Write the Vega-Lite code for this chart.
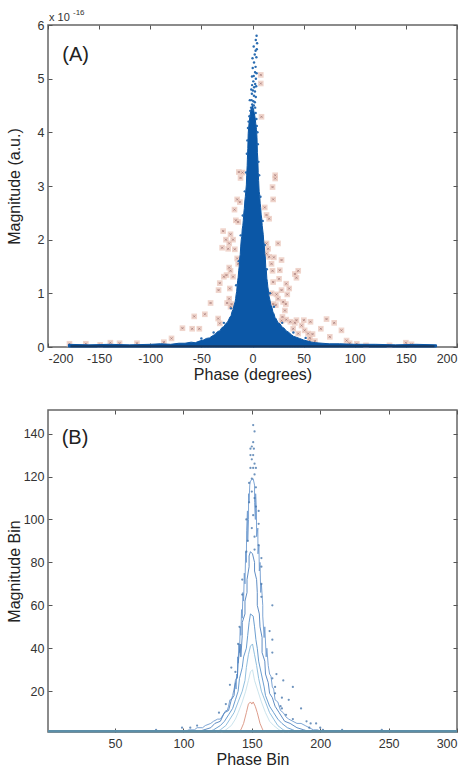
{"$schema":"https://vega.github.io/schema/vega-lite/v6.json","background":"#ffffff","padding":{"left":5,"top":8,"right":5,"bottom":2},"spacing":63,"bounds":"flush","config":{"font":"Liberation Sans","view":{"stroke":"#666666","strokeWidth":1.5},"axis":{"grid":false,"domain":false,"tickColor":"#555555","tickSize":-4,"labelColor":"#333333","labelFontSize":12.5,"titleColor":"#222222","titleFontSize":16,"titleFontWeight":"normal"}},"datasets":{"env":[{"x":-180,"y":0.05},{"x":-160,"y":0.04},{"x":-140,"y":0.05},{"x":-120,"y":0.04},{"x":-100,"y":0.05},{"x":-90,"y":0.06},{"x":-80,"y":0.05},{"x":-72,"y":0.07},{"x":-66,"y":0.07},{"x":-60,"y":0.09},{"x":-56,"y":0.08},{"x":-52,"y":0.11},{"x":-48,"y":0.13},{"x":-45,"y":0.16},{"x":-42,"y":0.17},{"x":-39,"y":0.21},{"x":-37,"y":0.23},{"x":-34,"y":0.29},{"x":-32,"y":0.3},{"x":-30,"y":0.36},{"x":-28,"y":0.38},{"x":-26,"y":0.44},{"x":-24.5,"y":0.46},{"x":-23,"y":0.52},{"x":-22,"y":0.56},{"x":-21,"y":0.58},{"x":-20,"y":0.66},{"x":-19,"y":0.7},{"x":-18,"y":0.78},{"x":-17,"y":0.84},{"x":-16.5,"y":0.9},{"x":-16,"y":0.98},{"x":-15.5,"y":1.03},{"x":-15,"y":1.14},{"x":-14.5,"y":1.24},{"x":-14,"y":1.3},{"x":-13.5,"y":1.42},{"x":-13,"y":1.5},{"x":-12.5,"y":1.66},{"x":-12,"y":1.72},{"x":-11.5,"y":1.88},{"x":-11,"y":2.0},{"x":-10.5,"y":2.06},{"x":-10,"y":2.2},{"x":-9.5,"y":2.26},{"x":-9,"y":2.36},{"x":-8.5,"y":2.5},{"x":-8,"y":2.58},{"x":-7.5,"y":2.72},{"x":-7,"y":2.8},{"x":-6.5,"y":2.92},{"x":-6,"y":3.02},{"x":-5.7,"y":3.2},{"x":-5.2,"y":3.38},{"x":-5,"y":3.5},{"x":-4.6,"y":3.7},{"x":-4.2,"y":3.98},{"x":-3.8,"y":4.08},{"x":-3.2,"y":4.2},{"x":-2.5,"y":4.3},{"x":-1.5,"y":4.42},{"x":0,"y":4.5},{"x":1.5,"y":4.38},{"x":2.5,"y":4.28},{"x":3.2,"y":4.16},{"x":3.9,"y":4.05},{"x":4.4,"y":3.9},{"x":4.8,"y":3.62},{"x":5.2,"y":3.5},{"x":5.6,"y":3.25},{"x":6,"y":3.1},{"x":6.5,"y":2.9},{"x":7,"y":2.84},{"x":7.5,"y":2.68},{"x":8,"y":2.6},{"x":8.5,"y":2.46},{"x":9,"y":2.4},{"x":9.5,"y":2.26},{"x":10,"y":2.18},{"x":10.5,"y":2.1},{"x":11,"y":1.96},{"x":11.5,"y":1.9},{"x":12,"y":1.74},{"x":12.5,"y":1.68},{"x":13,"y":1.48},{"x":13.5,"y":1.44},{"x":14,"y":1.28},{"x":14.5,"y":1.22},{"x":15,"y":1.12},{"x":15.5,"y":1.06},{"x":16,"y":0.96},{"x":17,"y":0.88},{"x":18,"y":0.78},{"x":19,"y":0.74},{"x":20,"y":0.65},{"x":21,"y":0.62},{"x":22,"y":0.55},{"x":23,"y":0.53},{"x":25,"y":0.45},{"x":27,"y":0.43},{"x":29,"y":0.37},{"x":31,"y":0.35},{"x":33,"y":0.3},{"x":35,"y":0.28},{"x":38,"y":0.23},{"x":40,"y":0.2},{"x":43,"y":0.18},{"x":46,"y":0.16},{"x":50,"y":0.13},{"x":54,"y":0.11},{"x":58,"y":0.09},{"x":62,"y":0.08},{"x":68,"y":0.07},{"x":75,"y":0.06},{"x":85,"y":0.06},{"x":100,"y":0.05},{"x":120,"y":0.05},{"x":140,"y":0.04},{"x":160,"y":0.05},{"x":180,"y":0.04}],"blueA":[{"x":4,"y":5.8},{"x":3.2,"y":5.72},{"x":4.5,"y":5.66},{"x":1.2,"y":5.6},{"x":3,"y":5.52},{"x":4.2,"y":5.55},{"x":2.2,"y":5.45},{"x":0,"y":5.38},{"x":3.8,"y":5.4},{"x":1.5,"y":5.3},{"x":3,"y":5.22},{"x":0.2,"y":5.2},{"x":2.5,"y":5.12},{"x":4,"y":5.1},{"x":-0.5,"y":5.04},{"x":1.2,"y":5.05},{"x":3.3,"y":5.0},{"x":0.8,"y":4.95},{"x":2.6,"y":4.9},{"x":-0.4,"y":4.88},{"x":1.6,"y":4.84},{"x":3.6,"y":4.86},{"x":-1.2,"y":4.8},{"x":0.4,"y":4.78},{"x":2.4,"y":4.76},{"x":-0.6,"y":4.72},{"x":1.4,"y":4.68},{"x":3.2,"y":4.66},{"x":-2.6,"y":4.6},{"x":-0.9,"y":4.6},{"x":0.9,"y":4.58},{"x":2.3,"y":4.56},{"x":-0.3,"y":4.52},{"x":1.3,"y":4.5},{"x":-1.4,"y":4.46},{"x":2.6,"y":4.46},{"x":-2.2,"y":4.4},{"x":0.5,"y":4.42},{"x":3.1,"y":4.36},{"x":-3,"y":4.3},{"x":3.8,"y":4.25},{"x":-3.8,"y":4.2},{"x":4.2,"y":4.12},{"x":-4.4,"y":4.08},{"x":4.8,"y":4.0},{"x":-5,"y":3.85},{"x":5.2,"y":3.78},{"x":-5.5,"y":3.6},{"x":5.8,"y":3.45},{"x":-6.2,"y":3.25},{"x":6.5,"y":3.2},{"x":-7.5,"y":2.9},{"x":7.8,"y":2.8},{"x":-9.5,"y":2.45},{"x":10,"y":2.35},{"x":-11.5,"y":2.08},{"x":12,"y":1.9},{"x":-13.5,"y":1.6},{"x":14,"y":1.45},{"x":-16,"y":1.15},{"x":17,"y":1.0},{"x":-21,"y":0.72},{"x":21,"y":0.75},{"x":-28,"y":0.45},{"x":29,"y":0.45},{"x":-38,"y":0.27},{"x":40,"y":0.27},{"x":-50,"y":0.16},{"x":52,"y":0.17}],"redA":[{"x":8.1,"y":5.07},{"x":8.1,"y":4.91},{"x":8.8,"y":4.29},{"x":-13.4,"y":3.26},{"x":-9.8,"y":3.25},{"x":-11.7,"y":3.15},{"x":22.2,"y":3.2},{"x":22.2,"y":3.14},{"x":19.6,"y":2.98},{"x":20.2,"y":2.75},{"x":-15,"y":2.75},{"x":-12.4,"y":2.7},{"x":-17.6,"y":2.56},{"x":12,"y":2.6},{"x":13.7,"y":2.46},{"x":16.3,"y":2.39},{"x":-16.3,"y":2.36},{"x":-14,"y":2.33},{"x":-28.7,"y":2.16},{"x":-21.5,"y":2.1},{"x":-26,"y":2},{"x":-19,"y":2},{"x":-22.8,"y":1.93},{"x":-29.7,"y":1.85},{"x":-23.8,"y":1.83},{"x":-17.3,"y":1.82},{"x":25,"y":1.93},{"x":13.7,"y":1.93},{"x":15.3,"y":1.83},{"x":13.7,"y":1.74},{"x":16.3,"y":1.68},{"x":20.9,"y":1.67},{"x":28.4,"y":1.62},{"x":-15,"y":1.65},{"x":-14,"y":1.55},{"x":-22.8,"y":1.48},{"x":-21.5,"y":1.42},{"x":18.6,"y":1.55},{"x":26.7,"y":1.43},{"x":19.6,"y":1.42},{"x":44.7,"y":1.42},{"x":41.4,"y":1.36},{"x":43,"y":1.29},{"x":-25.4,"y":1.34},{"x":-28,"y":1.31},{"x":-19,"y":1.31},{"x":-32,"y":1.19},{"x":-22.2,"y":1.09},{"x":-33.2,"y":1.06},{"x":26,"y":1.27},{"x":20.2,"y":1.21},{"x":33,"y":1.18},{"x":35.9,"y":1.09},{"x":28.4,"y":1.06},{"x":18.6,"y":1},{"x":23.5,"y":0.98},{"x":34,"y":0.98},{"x":25,"y":0.9},{"x":-22.8,"y":0.9},{"x":-24.8,"y":0.82},{"x":-41,"y":0.82},{"x":-20.5,"y":0.8},{"x":30,"y":0.84},{"x":32.6,"y":0.8},{"x":20.2,"y":0.8},{"x":22.8,"y":0.78},{"x":-21.5,"y":0.75},{"x":31.7,"y":0.68},{"x":-46.6,"y":0.61},{"x":-57,"y":0.57},{"x":-33.6,"y":0.53},{"x":29.3,"y":0.56},{"x":28.4,"y":0.49},{"x":33,"y":0.51},{"x":37,"y":0.47},{"x":41.4,"y":0.45},{"x":50.2,"y":0.5},{"x":56.7,"y":0.47},{"x":43,"y":0.5},{"x":72.4,"y":0.52},{"x":79.9,"y":0.45},{"x":66.8,"y":0.34},{"x":87,"y":0.31},{"x":-68.5,"y":0.35},{"x":-59,"y":0.34},{"x":-52,"y":0.34},{"x":-32,"y":0.44},{"x":39.8,"y":0.34},{"x":48,"y":0.4},{"x":51,"y":0.31},{"x":44.7,"y":0.25},{"x":54.4,"y":0.25},{"x":58.7,"y":0.24},{"x":56,"y":0.17},{"x":75.6,"y":0.19},{"x":-79.2,"y":0.16},{"x":92,"y":0.12},{"x":95,"y":0.07},{"x":-86.7,"y":0.09},{"x":-113,"y":0.07},{"x":-130,"y":0.07},{"x":-139,"y":0.08},{"x":-163,"y":0.06},{"x":-179,"y":0.06},{"x":-149,"y":0.04},{"x":150,"y":0.08},{"x":155.5,"y":0.05},{"x":134,"y":0.03},{"x":111,"y":0.03},{"x":102,"y":0.06},{"x":56,"y":0.12},{"x":61,"y":0.11}],"baseA":[{"x":-178,"y":0.015},{"x":178,"y":0.015}],"labelsA":[{"x":-186,"y":5.44,"label":"(A)"}],"expA":[{"x":-200,"y":6,"label":"x 10"}],"exp2A":[{"x":-200,"y":6,"label":"-16"}],"contours":[{"c":"a","x":100,"y":1},{"c":"a","x":104,"y":2},{"c":"a","x":108,"y":2},{"c":"a","x":110,"y":3},{"c":"a","x":114,"y":3},{"c":"a","x":116,"y":4},{"c":"a","x":120,"y":5},{"c":"a","x":122,"y":6},{"c":"a","x":125,"y":7},{"c":"a","x":127,"y":7},{"c":"a","x":129,"y":9},{"c":"a","x":131,"y":11},{"c":"a","x":132,"y":11},{"c":"a","x":133,"y":13},{"c":"a","x":134,"y":16},{"c":"a","x":135,"y":16},{"c":"a","x":136,"y":18},{"c":"a","x":137,"y":21},{"c":"a","x":138.5,"y":21},{"c":"a","x":138,"y":24},{"c":"a","x":139.5,"y":26},{"c":"a","x":139,"y":28},{"c":"a","x":140,"y":33},{"c":"a","x":139.6,"y":36},{"c":"a","x":141,"y":38},{"c":"a","x":140.5,"y":42},{"c":"a","x":142,"y":46},{"c":"a","x":141.5,"y":50},{"c":"a","x":143,"y":54},{"c":"a","x":142.5,"y":58},{"c":"a","x":144,"y":62},{"c":"a","x":143.5,"y":66},{"c":"a","x":145,"y":70},{"c":"a","x":144.5,"y":75},{"c":"a","x":146,"y":80},{"c":"a","x":145.5,"y":85},{"c":"a","x":147,"y":90},{"c":"a","x":146.2,"y":95},{"c":"a","x":147.6,"y":100},{"c":"a","x":146.8,"y":104},{"c":"a","x":148,"y":108},{"c":"a","x":147.6,"y":112},{"c":"a","x":148.5,"y":116},{"c":"a","x":149,"y":118},{"c":"a","x":151,"y":119},{"c":"a","x":152,"y":116},{"c":"a","x":152.8,"y":112},{"c":"a","x":152,"y":108},{"c":"a","x":153.4,"y":104},{"c":"a","x":152.6,"y":100},{"c":"a","x":154.4,"y":96},{"c":"a","x":153.5,"y":92},{"c":"a","x":155.2,"y":88},{"c":"a","x":154.5,"y":84},{"c":"a","x":156,"y":80},{"c":"a","x":155.5,"y":76},{"c":"a","x":157,"y":70},{"c":"a","x":156.5,"y":66},{"c":"a","x":158,"y":60},{"c":"a","x":158,"y":55},{"c":"a","x":159.5,"y":50},{"c":"a","x":159,"y":45},{"c":"a","x":161,"y":40},{"c":"a","x":160.5,"y":36},{"c":"a","x":162,"y":32},{"c":"a","x":163,"y":28},{"c":"a","x":164,"y":27},{"c":"a","x":165,"y":22},{"c":"a","x":166,"y":21},{"c":"a","x":167,"y":16},{"c":"a","x":169,"y":15},{"c":"a","x":171,"y":11},{"c":"a","x":173,"y":10},{"c":"a","x":175,"y":8},{"c":"a","x":177,"y":7},{"c":"a","x":180,"y":6},{"c":"a","x":183,"y":5},{"c":"a","x":186,"y":5},{"c":"a","x":189,"y":4},{"c":"a","x":192,"y":3},{"c":"a","x":195,"y":2},{"c":"a","x":198,"y":2},{"c":"a","x":202,"y":1},{"c":"b","x":110,"y":1},{"c":"b","x":115,"y":2},{"c":"b","x":120,"y":3},{"c":"b","x":123,"y":5},{"c":"b","x":127,"y":6},{"c":"b","x":130,"y":10},{"c":"b","x":133,"y":11},{"c":"b","x":135,"y":16},{"c":"b","x":137,"y":18},{"c":"b","x":138,"y":25},{"c":"b","x":139.5,"y":27},{"c":"b","x":140,"y":33},{"c":"b","x":142,"y":36},{"c":"b","x":141.5,"y":42},{"c":"b","x":143,"y":46},{"c":"b","x":143,"y":52},{"c":"b","x":145,"y":56},{"c":"b","x":145,"y":62},{"c":"b","x":146.5,"y":66},{"c":"b","x":146.5,"y":72},{"c":"b","x":148,"y":78},{"c":"b","x":148,"y":83},{"c":"b","x":149,"y":85},{"c":"b","x":150.5,"y":84},{"c":"b","x":152,"y":80},{"c":"b","x":152,"y":76},{"c":"b","x":153.5,"y":72},{"c":"b","x":154,"y":66},{"c":"b","x":154,"y":60},{"c":"b","x":155.5,"y":56},{"c":"b","x":156,"y":50},{"c":"b","x":157.5,"y":45},{"c":"b","x":157.5,"y":38},{"c":"b","x":159.5,"y":34},{"c":"b","x":160,"y":28},{"c":"b","x":162,"y":24},{"c":"b","x":163,"y":19},{"c":"b","x":165,"y":17},{"c":"b","x":167,"y":13},{"c":"b","x":170,"y":10},{"c":"b","x":174,"y":6},{"c":"b","x":178,"y":5},{"c":"b","x":183,"y":3},{"c":"b","x":188,"y":2},{"c":"b","x":193,"y":1},{"c":"c","x":118,"y":1},{"c":"c","x":122,"y":2},{"c":"c","x":127,"y":4},{"c":"c","x":130,"y":6},{"c":"c","x":133,"y":9},{"c":"c","x":136,"y":12},{"c":"c","x":138,"y":16},{"c":"c","x":140,"y":20},{"c":"c","x":141,"y":26},{"c":"c","x":143,"y":31},{"c":"c","x":144,"y":36},{"c":"c","x":146,"y":40},{"c":"c","x":147,"y":46},{"c":"c","x":148,"y":52},{"c":"c","x":149,"y":56},{"c":"c","x":151,"y":55},{"c":"c","x":152,"y":50},{"c":"c","x":153,"y":44},{"c":"c","x":154,"y":40},{"c":"c","x":155,"y":34},{"c":"c","x":157,"y":28},{"c":"c","x":159,"y":22},{"c":"c","x":160,"y":18},{"c":"c","x":163,"y":13},{"c":"c","x":166,"y":10},{"c":"c","x":169,"y":7},{"c":"c","x":172,"y":5},{"c":"c","x":176,"y":3},{"c":"c","x":180,"y":2},{"c":"c","x":184,"y":1},{"c":"d","x":124,"y":1},{"c":"d","x":127,"y":2},{"c":"d","x":131,"y":4},{"c":"d","x":134,"y":7},{"c":"d","x":137,"y":10},{"c":"d","x":140,"y":15},{"c":"d","x":143,"y":20},{"c":"d","x":145,"y":25},{"c":"d","x":146,"y":31},{"c":"d","x":147.5,"y":37},{"c":"d","x":149,"y":41},{"c":"d","x":150.5,"y":42},{"c":"d","x":152,"y":37},{"c":"d","x":153.5,"y":32},{"c":"d","x":155,"y":26},{"c":"d","x":157,"y":20},{"c":"d","x":160,"y":15},{"c":"d","x":163,"y":10},{"c":"d","x":166,"y":7},{"c":"d","x":169,"y":4},{"c":"d","x":173,"y":2},{"c":"d","x":177,"y":1},{"c":"e","x":128,"y":1},{"c":"e","x":131,"y":2},{"c":"e","x":135,"y":4},{"c":"e","x":138,"y":7},{"c":"e","x":140,"y":10},{"c":"e","x":143,"y":15},{"c":"e","x":145.5,"y":20},{"c":"e","x":147.5,"y":25},{"c":"e","x":149,"y":29},{"c":"e","x":150.5,"y":30},{"c":"e","x":152,"y":25},{"c":"e","x":154.5,"y":20},{"c":"e","x":157,"y":15},{"c":"e","x":160,"y":10},{"c":"e","x":163,"y":6},{"c":"e","x":166,"y":4},{"c":"e","x":170,"y":2},{"c":"e","x":173,"y":1},{"c":"f","x":140,"y":1},{"c":"f","x":142,"y":2},{"c":"f","x":144,"y":5},{"c":"f","x":146,"y":10},{"c":"f","x":147.5,"y":14},{"c":"f","x":149,"y":15},{"c":"f","x":150,"y":14},{"c":"f","x":151,"y":15},{"c":"f","x":152.5,"y":13},{"c":"f","x":154,"y":10},{"c":"f","x":156,"y":5},{"c":"f","x":158,"y":2},{"c":"f","x":160,"y":1}],"baseB":[{"x":1,"y":1.4},{"x":300,"y":1.4}],"dotsB":[{"x":151,"y":144},{"x":152,"y":141},{"x":151,"y":136},{"x":150,"y":134},{"x":151.5,"y":133},{"x":149,"y":133},{"x":151,"y":130},{"x":149,"y":130},{"x":150,"y":128},{"x":152,"y":126},{"x":151,"y":124},{"x":149,"y":124},{"x":153,"y":124},{"x":152,"y":121},{"x":150,"y":119},{"x":148,"y":117},{"x":153,"y":115},{"x":150,"y":113},{"x":152,"y":110},{"x":148,"y":108},{"x":153,"y":106},{"x":155,"y":104},{"x":151,"y":102},{"x":146,"y":100},{"x":155,"y":98},{"x":150,"y":96},{"x":152,"y":92},{"x":147,"y":90},{"x":155,"y":88},{"x":152,"y":86},{"x":146,"y":85},{"x":157,"y":82},{"x":157,"y":78},{"x":143,"y":72},{"x":157,"y":70},{"x":143,"y":65},{"x":157,"y":64},{"x":165,"y":60},{"x":141,"y":50},{"x":163,"y":48},{"x":165,"y":44},{"x":140,"y":42},{"x":165,"y":38},{"x":135,"y":31},{"x":138,"y":29},{"x":168,"y":28},{"x":165,"y":26},{"x":134,"y":23},{"x":167,"y":22},{"x":173,"y":25},{"x":180,"y":22},{"x":167,"y":19},{"x":172,"y":17},{"x":131,"y":14},{"x":177,"y":16},{"x":171,"y":13},{"x":186,"y":12},{"x":126,"y":10},{"x":172,"y":12},{"x":175,"y":9},{"x":180,"y":7},{"x":190,"y":6},{"x":193,"y":5},{"x":197,"y":5},{"x":192,"y":3},{"x":200,"y":3},{"x":202,"y":2},{"x":110,"y":4},{"x":105,"y":3},{"x":99,"y":3},{"x":80,"y":2},{"x":216,"y":2},{"x":245,"y":2}],"labelsB":[{"x":11,"y":138,"label":"(B)"}]},"vconcat":[{"width":409,"height":322,"resolve":{"axis":{"x":"independent","y":"independent"}},"layer":[{"data":{"name":"baseA"},"mark":{"type":"line","color":"#17375f","strokeWidth":0,"opacity":0},"encoding":{"x":{"field":"x","type":"quantitative","scale":{"domain":[-200,200],"nice":false},"axis":{"orient":"top","labels":false,"title":null,"values":[-200,-150,-100,-50,0,50,100,150,200]}},"y":{"field":"y","type":"quantitative","scale":{"domain":[0,6],"nice":false},"axis":{"orient":"right","labels":false,"title":null,"values":[0,1,2,3,4,5,6]}}}},{"data":{"name":"redA"},"mark":{"type":"point","shape":"square","filled":true,"size":32,"color":"#eccabf","opacity":0.8},"encoding":{"x":{"field":"x","type":"quantitative","scale":{"domain":[-200,200],"nice":false},"axis":{"orient":"bottom","title":"Phase (degrees)","titlePadding":2,"labelPadding":9,"values":[-200,-150,-100,-50,0,50,100,150,200],"labelExpr":"replace(datum.label,'−','-')"}},"y":{"field":"y","type":"quantitative","scale":{"domain":[0,6],"nice":false},"axis":{"orient":"left","title":"Magnitude (a.u.)","titlePadding":15,"labelPadding":8,"values":[0,1,2,3,4,5,6]}}}},{"data":{"name":"redA"},"mark":{"type":"point","shape":"M-1,-1L1,1M-1,1L1,-1","size":4,"color":"#8a5a5c","strokeWidth":0.8},"encoding":{"x":{"field":"x","type":"quantitative","scale":{"domain":[-200,200],"nice":false},"axis":null},"y":{"field":"y","type":"quantitative","scale":{"domain":[0,6],"nice":false},"axis":null}}},{"data":{"name":"env"},"mark":{"type":"area","color":"#0b57a6","stroke":"#0b57a6","strokeWidth":1},"encoding":{"x":{"field":"x","type":"quantitative","scale":{"domain":[-200,200],"nice":false},"axis":null},"y":{"field":"y","type":"quantitative","scale":{"domain":[0,6],"nice":false},"axis":null}}},{"data":{"name":"blueA"},"mark":{"type":"point","filled":true,"size":6,"color":"#1f64ad","opacity":0.95},"encoding":{"x":{"field":"x","type":"quantitative","scale":{"domain":[-200,200],"nice":false},"axis":null},"y":{"field":"y","type":"quantitative","scale":{"domain":[0,6],"nice":false},"axis":null}}},{"data":{"name":"baseA"},"mark":{"type":"line","color":"#17375f","strokeWidth":2},"encoding":{"x":{"field":"x","type":"quantitative","scale":{"domain":[-200,200],"nice":false},"axis":null},"y":{"field":"y","type":"quantitative","scale":{"domain":[0,6],"nice":false},"axis":null}}},{"data":{"name":"labelsA"},"mark":{"type":"text","align":"left","baseline":"middle","fontSize":20,"color":"#222222"},"encoding":{"x":{"field":"x","type":"quantitative","scale":{"domain":[-200,200],"nice":false},"axis":null},"y":{"field":"y","type":"quantitative","scale":{"domain":[0,6],"nice":false},"axis":null},"text":{"field":"label"}}},{"data":{"name":"expA"},"mark":{"type":"text","align":"left","baseline":"bottom","fontSize":11,"dx":1,"dy":-2,"color":"#333333"},"encoding":{"x":{"field":"x","type":"quantitative","scale":{"domain":[-200,200],"nice":false},"axis":null},"y":{"field":"y","type":"quantitative","scale":{"domain":[0,6],"nice":false},"axis":null},"text":{"field":"label"}}},{"data":{"name":"exp2A"},"mark":{"type":"text","align":"left","baseline":"bottom","fontSize":8,"dx":25,"dy":-8,"color":"#333333"},"encoding":{"x":{"field":"x","type":"quantitative","scale":{"domain":[-200,200],"nice":false},"axis":null},"y":{"field":"y","type":"quantitative","scale":{"domain":[0,6],"nice":false},"axis":null},"text":{"field":"label"}}}]},{"width":409,"height":322,"resolve":{"axis":{"x":"independent","y":"independent"}},"layer":[{"data":{"name":"baseB"},"mark":{"type":"line","color":"#5c8fa8","strokeWidth":0,"opacity":0},"encoding":{"x":{"field":"x","type":"quantitative","scale":{"domain":[1,300],"nice":false},"axis":{"orient":"top","labels":false,"title":null,"values":[50,100,150,200,250,300]}},"y":{"field":"y","type":"quantitative","scale":{"domain":[1,151],"nice":false},"axis":{"orient":"right","labels":false,"title":null,"values":[20,40,60,80,100,120,140]}}}},{"data":{"name":"contours"},"mark":{"type":"line","strokeWidth":0.9},"encoding":{"x":{"field":"x","type":"quantitative","scale":{"domain":[1,300],"nice":false},"axis":{"orient":"bottom","title":"Phase Bin","titlePadding":2,"labelPadding":9,"values":[50,100,150,200,250,300]}},"y":{"field":"y","type":"quantitative","scale":{"domain":[1,151],"nice":false},"axis":{"orient":"left","title":"Magnitude Bin","titlePadding":1,"labelPadding":8,"values":[20,40,60,80,100,120,140]}},"color":{"field":"c","type":"nominal","legend":null,"scale":{"domain":["a","b","c","d","e","f"],"range":["#6f9bcf","#4f81bd","#5b93c9","#85b8da","#c4e0ea","#d9927f"]}},"order":null}},{"data":{"name":"dotsB"},"mark":{"type":"point","filled":true,"size":5,"color":"#4a78ad","opacity":0.8},"encoding":{"x":{"field":"x","type":"quantitative","scale":{"domain":[1,300],"nice":false},"axis":null},"y":{"field":"y","type":"quantitative","scale":{"domain":[1,151],"nice":false},"axis":null}}},{"data":{"name":"baseB"},"mark":{"type":"line","color":"#5c8fa8","strokeWidth":2.5},"encoding":{"x":{"field":"x","type":"quantitative","scale":{"domain":[1,300],"nice":false},"axis":null},"y":{"field":"y","type":"quantitative","scale":{"domain":[1,151],"nice":false},"axis":null}}},{"data":{"name":"labelsB"},"mark":{"type":"text","align":"left","baseline":"middle","fontSize":20,"color":"#222222"},"encoding":{"x":{"field":"x","type":"quantitative","scale":{"domain":[1,300],"nice":false},"axis":null},"y":{"field":"y","type":"quantitative","scale":{"domain":[1,151],"nice":false},"axis":null},"text":{"field":"label"}}}]}]}
